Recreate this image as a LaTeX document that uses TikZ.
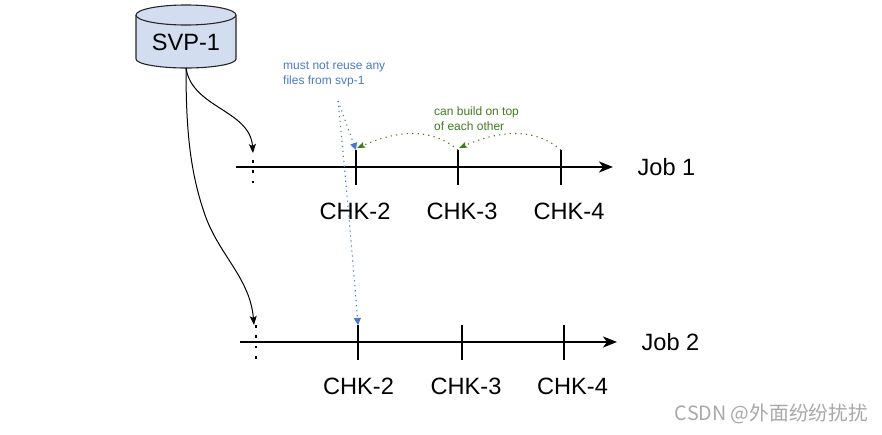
\documentclass[tikz,border=0pt]{standalone}
\usepackage{fontspec}
\setmainfont{Liberation Sans}
\newfontfamily\cjkwm{Noto Sans CJK SC}
\usetikzlibrary{arrows.meta}
\definecolor{cylfill}{HTML}{D2DDF0}
\definecolor{noteblue}{HTML}{4A78C8}
\definecolor{notegreen}{HTML}{3F7A1E}
\definecolor{wmgray}{HTML}{A8A8A8}
\tikzset{
  axisline/.style={line width=2.4pt,-{Stealth[length=14pt,width=11pt,inset=4pt]}},
  tickline/.style={line width=2.4pt},
  bigtext/.style={font=\fontsize{23.6}{27}\selectfont,inner sep=0pt,text=black},
  notetext/.style={font=\fontsize{12}{15}\selectfont,inner sep=0pt,align=left,anchor=north west},
  fetch/.style={line width=1pt,-{Stealth[length=9pt,width=7pt,inset=2pt]}},
  blocknote/.style={noteblue,line width=1.1pt,dash pattern=on 1.2pt off 3.8pt,-{Triangle[length=7pt,width=7pt]}},
  buildnote/.style={notegreen,line width=1.1pt,dash pattern=on 1.2pt off 4.2pt,-{Stealth[length=8pt,width=6pt,inset=1.5pt]}},
  tickdots/.style={line width=2.4pt,dash pattern=on 2.6pt off 7.7pt},
}
\begin{document}
\begin{tikzpicture}[x=1pt,y=-1pt]
\useasboundingbox (0,0) rectangle (882,434);
% cylinder (y axis points down, so arc angles are mirrored)
\draw[fill=cylfill,line width=1.1pt,draw=black!85] (136,15) -- (136,59) arc[start angle=180,end angle=0,x radius=50,y radius=9] -- (236,15) arc[start angle=0,end angle=-180,x radius=50,y radius=10] -- cycle;
\draw[line width=1.1pt,draw=black!85] (136,15) arc[start angle=180,end angle=0,x radius=50,y radius=10];
\node[bigtext] (svp) at (186,42) {SVP-1};
\coordinate (svpb) at (186,68);
% job 1
\coordinate (j1s) at (236,167);
\coordinate (j1e) at (613,167);
\coordinate (j1d) at (253,160);
\coordinate (j1de) at (253,184);
\coordinate (a1) at (356,150);
\coordinate (a1b) at (356,185);
\coordinate (b1) at (458,150);
\coordinate (b1b) at (458,185);
\coordinate (c1) at (561,150);
\coordinate (c1b) at (561,185);
\draw[axisline] (j1s) -- (j1e);
\draw[tickline] (a1) -- (a1b);
\draw[tickline] (b1) -- (b1b);
\draw[tickline] (c1) -- (c1b);
\draw[tickdots] (j1d) -- (j1de);
\node[bigtext] (lc1a) at (355,211) {CHK-2};
\node[bigtext] (lc1b) at (462,211) {CHK-3};
\node[bigtext] (lc1c) at (569,211) {CHK-4};
\node[bigtext] (job1) at (666.5,167) {Job 1};
% job 2
\coordinate (j2s) at (240,342);
\coordinate (j2e) at (617,342);
\coordinate (j2d) at (256,325);
\coordinate (j2de) at (256,359);
\coordinate (a2) at (358,325);
\coordinate (a2b) at (358,360);
\coordinate (b2) at (462,325);
\coordinate (b2b) at (462,360);
\coordinate (c2) at (564,325);
\coordinate (c2b) at (564,360);
\draw[axisline] (j2s) -- (j2e);
\draw[tickline] (a2) -- (a2b);
\draw[tickline] (b2) -- (b2b);
\draw[tickline] (c2) -- (c2b);
\draw[tickdots] (j2d) -- (j2de);
\node[bigtext] (lc2a) at (358.5,386) {CHK-2};
\node[bigtext] (lc2b) at (466,386) {CHK-3};
\node[bigtext] (lc2c) at (572.5,386) {CHK-4};
\node[bigtext] (job2) at (670.5,342) {Job 2};
% fetch curves
\coordinate (f1) at (253,153);
\coordinate (f2) at (254,325);
\coordinate (fm) at (205,215);
\draw[fetch] (svpb) .. controls (192,108) and (250,110) .. (f1);
\draw[fetch] (svpb) .. controls (186,130) and (190,172) .. (fm) .. controls (219,255) and (250,278) .. (f2);
% notes
\node[notetext,text=noteblue] (nb) at (283,62) {must not reuse any\\files from svp-1};
\node[notetext,text=notegreen] (ng) at (434,106.5) {can build on top\\of each other};
\coordinate (bs) at (338,101);
\draw[blocknote] (bs) -- (a1);
\draw[blocknote] (bs) .. controls (345,170) and (352,250) .. (a2);
\coordinate (g1) at (357,148);
\coordinate (g2) at (459,148);
\draw[buildnote] (b1) .. controls (425,122) and (385,136) .. (g1);
\draw[buildnote] (c1) .. controls (528,122) and (487,136) .. (g2);
% watermark
\node[font=\cjkwm\fontsize{19.7}{22}\selectfont,text=wmgray,inner sep=0pt,anchor=east] (wm) at (868,414) {CSDN @外面纷纷扰扰};
\end{tikzpicture}
\end{document}
